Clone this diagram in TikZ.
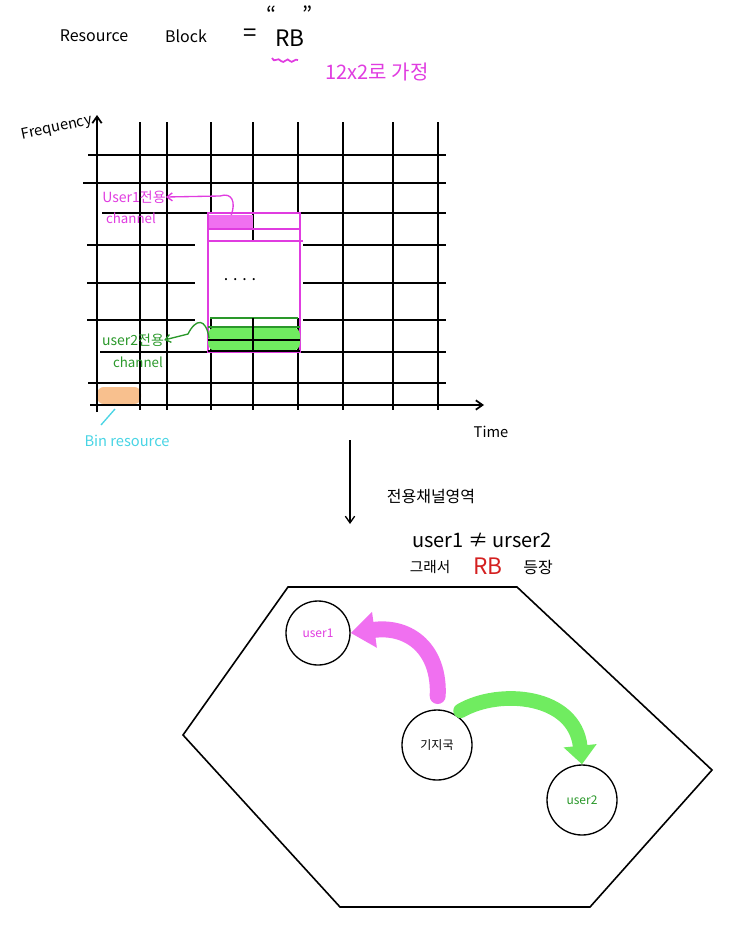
\documentclass[tikz,border=0pt]{standalone}
\usepackage{fontspec}
\setmainfont{Noto Sans CJK KR}
\usetikzlibrary{arrows.meta}
\definecolor{mag}{HTML}{E03CE0}
\definecolor{magfill}{HTML}{F070F0}
\definecolor{grn}{HTML}{70EC60}
\definecolor{dgrn}{HTML}{2A982A}
\definecolor{peach}{HTML}{F8C08E}
\definecolor{cyn}{HTML}{48D4E4}
\definecolor{rbred}{HTML}{D42020}
\begin{document}
\begin{tikzpicture}[x=0.75pt,y=-0.75pt,
  gline/.style={line width=1.3pt,black},
  txt/.style={inner sep=0pt,font=\fontsize{12}{14}\selectfont},
  small/.style={inner sep=0pt,font=\fontsize{10}{11}\selectfont},
  circ/.style={circle,draw,line width=1pt,minimum size=#1,inner sep=0pt,font=\fontsize{9}{10}\selectfont},
  thin/.style={line width=1pt},
]
\useasboundingbox (0,0) rectangle (743,931);

% ---- title ----
\node[txt] (res) at (94,36) {Resource};
\node[txt] (blk) at (186,36) {Block};
\node[txt,font=\fontsize{18}{19}\selectfont] (eq) at (250,35) {=};
\node[inner sep=0pt,font=\fontsize{17}{18}\selectfont] (rb) at (290,38) {RB};
\node[txt,font=\fontsize{16}{17}\selectfont] (q1) at (272,14) {“};
\node[txt,font=\fontsize{16}{17}\selectfont] (q2) at (308,14) {”};
\draw[mag,line width=1.3pt] (272,58) .. controls (274,64) and (278,56) .. (281,61) .. controls (284,65) and (287,56) .. (290,61) .. controls (292,64) and (295,58) .. (298,60);
\node[txt,mag,font=\fontsize{15}{16}\selectfont] (assume) at (377,72) {12x2로 가정};

% ---- peach block ----
\fill[peach,rounded corners=5pt] (97,387) rectangle (141,404);

% ---- grid ----
\foreach \y/\a in {155/88,183/83,213/102,352/100,383/88}
  \draw[gline] (\a,\y) -- (446,\y);
\foreach \y in {245,283,320}{
  \draw[gline] (87,\y) -- (195,\y);
  \draw[gline] (303,\y) -- (446,\y);
}
\foreach \x in {140,167,343,393,438}
  \draw[gline] (\x,122) -- (\x,410);
\foreach \x in {211,253,298}{
  \draw[gline] (\x,122) -- (\x,213);
  \draw[gline] (\x,318) -- (\x,410);
}
\draw[gline] (253,213) -- (253,241);
% axes
\draw[gline,-{Straight Barb[length=5pt,width=7pt]}] (97,412) -- (97,115);
\draw[gline,-{Straight Barb[length=5pt,width=7pt]}] (90,405) -- (484,405);
\node[txt,rotate=12,font=\fontsize{11}{12}\selectfont] (freq) at (57,128) {Frequency};
\node[txt,font=\fontsize{11}{12}\selectfont] (time) at (491,432) {Time};

% ---- magenta RB box ----
\fill[white] (209,242) rectangle (299,317);
\node[draw=none,fill=magfill,inner sep=0pt,minimum width=33pt,minimum height=10.5pt,anchor=north west] (u1blk) at (209,215) {};
\draw[mag,line width=1.2pt] (208,213) rectangle (300,352);
\draw[mag,line width=1.2pt] (208,229) -- (300,229);
\draw[mag,line width=1.2pt] (208,241) -- (303,241);
\node[txt] (dots) at (240,280) {. . . .};
% green rows
\fill[grn,rounded corners=6pt] (208,327) rectangle (300,351);
\coordinate (u2blk) at (209,338);
\draw[dgrn,line width=1pt] (210,318) -- (298,318);
\draw[dgrn,line width=1pt] (208,327) -- (300,327);
\draw[gline] (208,340) -- (300,340);
\draw[gline] (253,318) -- (253,351);
\draw[gline] (208,351) -- (300,351);

% ---- labels in the grid ----
\node[txt,mag,font=\fontsize{10.5}{11}\selectfont] (u1lbl) at (134,197) {User1전용};
\node[small,mag] (u1ch) at (131,218) {channel};
\draw[mag,line width=1pt,-{Straight Barb[length=4pt,width=6pt]}] (u1blk.north) .. controls (236,202) and (232,192) .. (220,196) -- (u1lbl.east);
\node[txt,dgrn,font=\fontsize{10.5}{11}\selectfont] (u2lbl) at (133,340) {user2전용};
\node[small,dgrn] (u2ch) at (138,362) {channel};
\draw[dgrn,line width=1pt,-{Straight Barb[length=4pt,width=6pt]}] (u2blk) .. controls (206,318) and (196,318) .. (188,334) -- (u2lbl.east);
\coordinate (binpt) at (115,409);
\node[txt,cyn,font=\fontsize{11}{12}\selectfont] (bin) at (127,441) {Bin resource};
\draw[cyn,line width=1pt] (binpt) -- (101,425);

% ---- down arrow and notes ----
\coordinate (dtop) at (350,440);
\coordinate (dbot) at (350,524);
\draw[thin,-{Straight Barb[length=5pt,width=7pt]}] (dtop) -- (dbot);
\node[txt,font=\fontsize{12}{13}\selectfont] (area) at (431,497) {전용채널영역};
\node[txt,font=\fontsize{15}{16}\selectfont] (neq) at (482,540) {user1 ≠ urser2};
\node[txt,font=\fontsize{11}{12}\selectfont] (so) at (430,567) {그래서};
\node[inner sep=0pt,rbred,font=\fontsize{17}{18}\selectfont] (rb2) at (488,566) {RB};
\node[txt,font=\fontsize{12}{13}\selectfont] (appear) at (538,567) {등장};

% ---- hexagon cell ----
\draw[line width=1.2pt] (288,587) -- (517,587) -- (712,770) -- (590,907) -- (340,907) -- (183,735) -- cycle;

\node[circ=48pt] (u1) at (318,633) {};
\node[mag,font=\fontsize{9}{10}\selectfont] (u1t) at (u1) {user1};
\node[circ=52.5pt] (bs) at (437,745) {기지국};
\node[circ=52.5pt] (u2) at (582,800) {};
\node[dgrn,font=\fontsize{9}{10}\selectfont] (u2t) at (u2) {user2};

\draw[magfill,line width=12pt,line cap=round,shorten <=10pt,-{Triangle[length=18pt,width=26pt]}]
  (bs.north) .. controls (440,650) and (410,625) .. (u1.east);
\draw[grn,line width=11pt,line cap=round,shorten <=5pt,-{Triangle[length=14pt,width=24pt]}]
  (bs.60) .. controls (500,688) and (575,695) .. (u2.north);
\end{tikzpicture}
\end{document}
